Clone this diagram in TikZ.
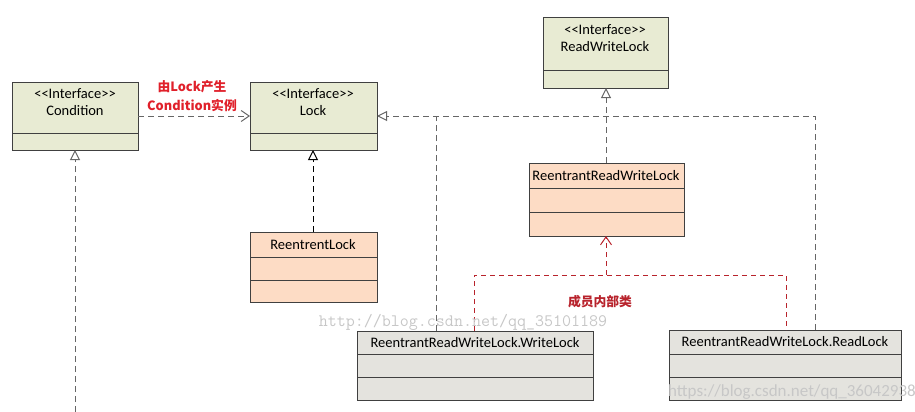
\documentclass[tikz,border=0pt]{standalone}
\usepackage{fontspec}
\setmainfont{Carlito}
\newfontfamily\cjk{Noto Sans CJK SC}
\usetikzlibrary{arrows.meta}
\definecolor{ifill}{HTML}{E8EBD3}
\definecolor{ofill}{HTML}{FDDCC5}
\definecolor{gfill}{HTML}{E4E3DE}
\definecolor{redl}{HTML}{E0202A}
\definecolor{redd}{HTML}{B8232C}
\begin{document}
\begin{tikzpicture}[x=1pt,y=-1pt,
  box/.style={draw=black!75,line width=1pt},
  dep/.style={draw=black!60,line width=1pt,dash pattern=on 6pt off 4pt},
  real/.style={-{Triangle[open,length=10pt,width=10pt]}},
  txt/.style={font=\fontsize{14.5}{17}\selectfont},
  red/.style={draw=redd,line width=1pt,dash pattern=on 5pt off 4pt},
  lab/.style={font=\cjk\bfseries\fontsize{12.8}{15}\selectfont}]
\useasboundingbox (0,0) rectangle (915,412);
\newcommand{\umlbox}[8]{%
  \filldraw[box,fill=#8] (#2,#3) rectangle (#4,#5);
  \draw[box] (#2,#6) -- (#4,#6) (#2,#7) -- (#4,#7);
  \node[coordinate] (#1-nw) at (#2,#3) {};}
\umlbox{cond}{12}{82}{138}{150}{133}{150}{ifill}
\node[txt,align=center] (condt) at (75,102) {{<}{<}Interface{>}{>}\\Condition};
\umlbox{lock}{250}{82}{377}{150}{133}{150}{ifill}
\node[txt,align=center] (lockt) at (313,102) {{<}{<}Interface{>}{>}\\Lock};
\umlbox{rwl}{543}{18}{668}{88}{70}{88}{ifill}
\node[txt,align=center] (rwlt) at (605,38) {{<}{<}Interface{>}{>}\\ReadWriteLock};
\umlbox{rrwl}{529}{163}{684}{236}{188}{212}{ofill}
\node[txt] (rrwlt) at (606,176) {ReentrantReadWriteLock};
\umlbox{rl}{250}{232}{377}{302}{257}{280}{ofill}
\node[txt] (rlt) at (313,245) {ReentrentLock};
\umlbox{wl}{357}{331}{593}{400}{354}{377}{gfill}
\node[txt] (wlt) at (475,343) {ReentrantReadWriteLock.WriteLock};
\umlbox{rdl}{669}{330}{901}{400}{354}{377}{gfill}
\node[txt] (rdlt) at (785,342) {ReentrantReadWriteLock.ReadLock};
\coordinate (condR) at (138,116);
\coordinate (lockL) at (250,116);
\coordinate (lockR) at (377,116);
\coordinate (lockB) at (313,150);
\coordinate (rlT) at (313,232);
\coordinate (condB) at (75,150);
\coordinate (condEnd) at (75,412);
\coordinate (rwlB) at (606,88);
\coordinate (rrwlT) at (606,163);
\coordinate (rrwlB) at (606,236);
\coordinate (wlT) at (436,331);
\coordinate (rdlT) at (815,330);
\coordinate (wlT2) at (474,331);
\coordinate (rdlT2) at (786,330);
\draw[dep,-{Straight Barb[length=8pt,width=11pt]}] (condR) -- (lockL);
\draw[dep,real] (condEnd) -- (condB);
\draw[dep,draw=black,real] (rlT) -- (lockB);
\draw[dep,real] (rdlT) |- (lockR);
\draw[dep] (wlT) -- (wlT |- lockR);
\draw[dep,real] (rrwlT) -- (rwlB);
\draw[red] (wlT2) |- (606,275) -| (rdlT2);
\draw[red,-{Straight Barb[length=8pt,width=11pt]}] (606,275) -- (rrwlB);
\node[lab,text=redl] (l1) at (192,87) {由Lock产生};
\node[lab,text=redl] (l2) at (192,106) {Condition实例};
\node[lab,text=redd] (l3) at (600,302) {成员内部类};
\node[text=black!22,font=\ttfamily\fontsize{17.5}{19}\selectfont] (wm1) at (463,322) {http://blog.csdn.net/qq\_35101189};
\node[text=black!22,font=\fontsize{17}{19}\selectfont] (wm2) at (792,392) {https://blog.csdn.net/qq\_36042938};
\end{tikzpicture}
\end{document}
